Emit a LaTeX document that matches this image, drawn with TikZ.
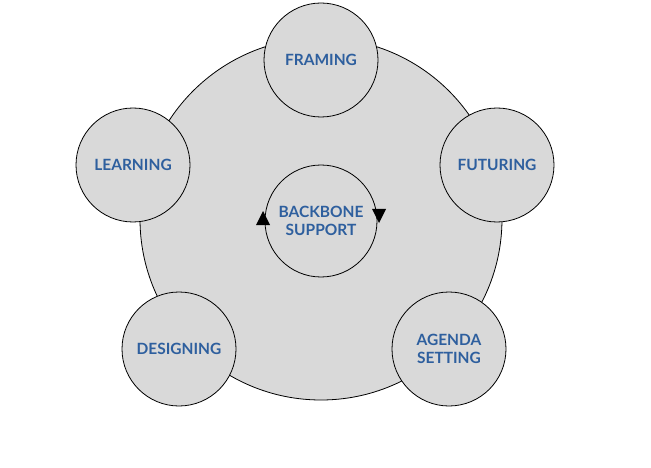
\documentclass[tikz,border=0pt]{standalone}
\usepackage{fontspec}
\setmainfont{Lato}
\definecolor{fillg}{HTML}{D9D9D9}
\definecolor{txtb}{HTML}{2E5F9E}
\begin{document}
\begin{tikzpicture}[x=1pt,y=-1pt,
  circ/.style={circle,draw=black,line width=0.8pt,fill=fillg,minimum size=114pt,inner sep=0pt,align=center,
    font=\bfseries\fontsize{15.5}{18}\selectfont,text=txtb}]
\useasboundingbox (0,0) rectangle (651,468);
\node[circle,draw=black,line width=0.8pt,fill=fillg,minimum size=362pt] (big) at (321,219) {};
\node[circ,minimum size=112pt] (c) at (321,221) {BACKBONE\\SUPPORT};
\node[circ] (f) at (321,60) {FRAMING};
\node[circ] (l) at (133,165) {LEARNING};
\node[circ] (u) at (497,165) {FUTURING};
\node[circ] (d) at (179,349) {DESIGNING};
\node[circ] (a) at (449,349) {AGENDA\\SETTING};
\fill (256,225) -- (270,225) -- (263,211) -- cycle;
\fill (372,209) -- (386,209) -- (379,223) -- cycle;
\end{tikzpicture}
\end{document}
